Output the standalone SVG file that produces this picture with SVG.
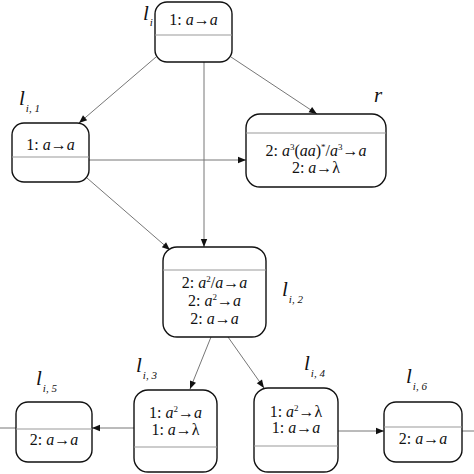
<svg xmlns="http://www.w3.org/2000/svg" width="474" height="474" viewBox="0 0 474 474">
<style>
.box{fill:#fff;stroke:#111;stroke-width:1.4}
.div{stroke:#999;stroke-width:1.2}
.t{font-family:'Liberation Serif','Times New Roman',Times,'DejaVu Serif',serif;font-size:16px;fill:#111;text-anchor:middle}
.i{font-style:italic}
.sup{font-size:9px}
.lab{font-family:'Liberation Serif','Times New Roman',Times,'DejaVu Serif',serif;font-size:21px;font-style:italic;fill:#111}
.sub{font-size:11px}
.c{stroke:#777;stroke-width:1;fill:none}
</style>
<defs>
<marker id="ah" viewBox="0 0 10 10" refX="10" refY="5" markerWidth="9" markerHeight="8" markerUnits="userSpaceOnUse" orient="auto">
<path d="M0,1 L10,5 L0,9 Z" fill="#111"/>
</marker>
</defs>
<g id="connectors">
<line class="c" x1="156" y1="57" x2="79" y2="123" marker-end="url(#ah)"/>
<line class="c" x1="231" y1="57" x2="317" y2="114" marker-end="url(#ah)"/>
<line class="c" x1="204" y1="62" x2="204" y2="247" marker-end="url(#ah)"/>
<line class="c" x1="89" y1="160" x2="246" y2="160" marker-end="url(#ah)"/>
<line class="c" x1="87" y1="178" x2="170" y2="250" marker-end="url(#ah)"/>
<line class="c" x1="211" y1="337" x2="190" y2="389" marker-end="url(#ah)"/>
<line class="c" x1="228" y1="337" x2="264" y2="388" marker-end="url(#ah)"/>
<line class="c" x1="134" y1="428" x2="92" y2="428" marker-end="url(#ah)"/>
<line class="c" x1="0" y1="428" x2="16" y2="428"/>
<line class="c" x1="338" y1="431" x2="384" y2="431" marker-end="url(#ah)"/>
<line class="c" x1="462" y1="431" x2="474" y2="431"/>
</g>
<g id="li">
<rect class="box" x="155" y="2" width="77" height="60" rx="12"/>
<line class="div" x1="155" y1="35" x2="232" y2="35"/>
<text class="t" x="193.5" y="25">1: <tspan class="i">a</tspan>→<tspan class="i">a</tspan></text>
<text class="lab" x="143" y="20">l<tspan class="sub" dx="1" dy="6">i</tspan></text>
</g>
<g id="li1">
<rect class="box" x="12" y="123" width="77" height="59" rx="12"/>
<line class="div" x1="12" y1="157" x2="89" y2="157"/>
<text class="t" x="50.5" y="150">1: <tspan class="i">a</tspan>→<tspan class="i">a</tspan></text>
<text class="lab" x="19" y="105">l<tspan class="sub" dx="1" dy="7">i, 1</tspan></text>
</g>
<g id="r">
<rect class="box" x="246" y="114" width="140" height="73" rx="14"/>
<line class="div" x1="246" y1="133" x2="386" y2="133"/>
<text class="t" x="316" y="156">2: <tspan class="i">a</tspan><tspan class="sup" dy="-6">3</tspan><tspan dy="6">(</tspan><tspan class="i">aa</tspan>)<tspan class="sup" dy="-6">*</tspan><tspan dy="6">/</tspan><tspan class="i">a</tspan><tspan class="sup" dy="-6">3</tspan><tspan dy="6">→</tspan><tspan class="i">a</tspan></text>
<text class="t" x="316" y="173">2: <tspan class="i">a</tspan>→λ</text>
<text class="lab" x="374" y="102">r</text>
</g>
<g id="li2">
<rect class="box" x="163" y="247" width="103" height="90" rx="14"/>
<line class="div" x1="163" y1="270" x2="266" y2="270"/>
<text class="t" x="214.5" y="288">2: <tspan class="i">a</tspan><tspan class="sup" dy="-6">2</tspan><tspan dy="6">/</tspan><tspan class="i">a</tspan>→<tspan class="i">a</tspan></text>
<text class="t" x="214.5" y="306">2: <tspan class="i">a</tspan><tspan class="sup" dy="-6">2</tspan><tspan dy="6">→</tspan><tspan class="i">a</tspan></text>
<text class="t" x="214.5" y="324">2: <tspan class="i">a</tspan>→<tspan class="i">a</tspan></text>
<text class="lab" x="282" y="296">l<tspan class="sub" dx="1" dy="7">i, 2</tspan></text>
</g>
<g id="li3">
<rect class="box" x="134" y="390" width="83" height="82" rx="14"/>
<line class="div" x1="134" y1="447" x2="217" y2="447"/>
<text class="t" x="175.5" y="418">1: <tspan class="i">a</tspan><tspan class="sup" dy="-6">2</tspan><tspan dy="6">→</tspan><tspan class="i">a</tspan></text>
<text class="t" x="175.5" y="435">1: <tspan class="i">a</tspan>→λ</text>
<text class="lab" x="136" y="372">l<tspan class="sub" dx="1" dy="7">i, 3</tspan></text>
</g>
<g id="li4">
<rect class="box" x="254" y="388" width="84" height="84" rx="14"/>
<line class="div" x1="254" y1="446" x2="338" y2="446"/>
<text class="t" x="296" y="417">1: <tspan class="i">a</tspan><tspan class="sup" dy="-6">2</tspan><tspan dy="6">→λ</tspan></text>
<text class="t" x="296" y="433">1: <tspan class="i">a</tspan>→<tspan class="i">a</tspan></text>
<text class="lab" x="304" y="370">l<tspan class="sub" dx="1" dy="7">i, 4</tspan></text>
</g>
<g id="li5">
<rect class="box" x="16" y="402" width="76" height="60" rx="12"/>
<line class="div" x1="16" y1="429" x2="92" y2="429"/>
<text class="t" x="54" y="445">2: <tspan class="i">a</tspan>→<tspan class="i">a</tspan></text>
<text class="lab" x="36" y="385">l<tspan class="sub" dx="1" dy="7">i, 5</tspan></text>
</g>
<g id="li6">
<rect class="box" x="384" y="402" width="78" height="60" rx="12"/>
<line class="div" x1="384" y1="427" x2="462" y2="427"/>
<text class="t" x="423" y="444">2: <tspan class="i">a</tspan>→<tspan class="i">a</tspan></text>
<text class="lab" x="406" y="383">l<tspan class="sub" dx="1" dy="7">i, 6</tspan></text>
</g>
</svg>
